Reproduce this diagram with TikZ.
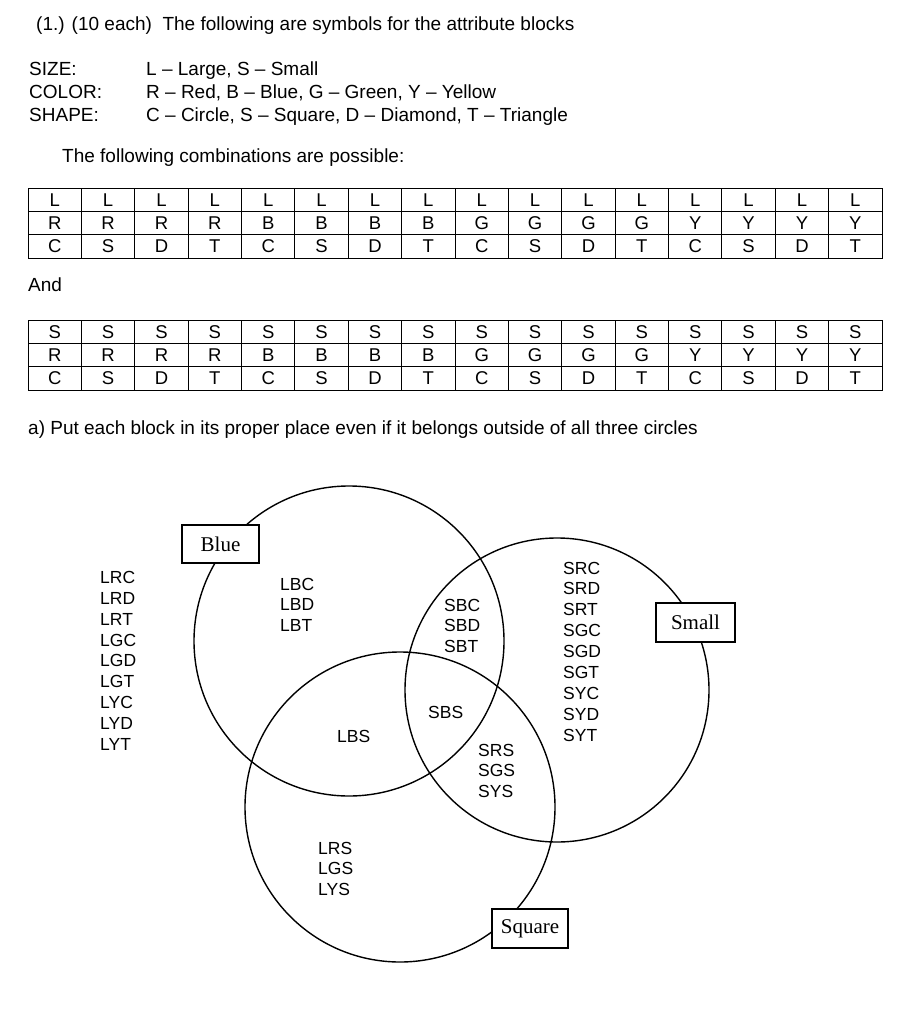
\documentclass[tikz,border=0pt]{standalone}
\usepackage{fontspec}
\setmainfont{Liberation Sans}
\newfontfamily\boxserif{Liberation Serif}
\begin{document}
\begin{tikzpicture}[x=1pt,y=-1pt,
  txt/.style={anchor=base west, inner sep=0pt, font=\fontsize{19}{23}\selectfont},
  cell/.style={draw, line width=0.9pt, minimum width=53.375pt, minimum height=23.33pt, inner sep=0pt, font=\fontsize{18.5}{20}\selectfont},
  vt/.style={anchor=base west, inner sep=0pt, font=\fontsize{17.5}{20}\selectfont},
  lbl/.style={draw, fill=white, line width=1.3pt, inner sep=0pt, font=\boxserif\fontsize{21}{24}\selectfont},
  venn/.style={line width=1.4pt}]
\useasboundingbox[fill=white] (0,0) rectangle (917,1024);

% header
\node[txt] (title) at (36,31) {(1.) (10 each)~ The following are symbols for the attribute blocks};
\node[txt] (size) at (29,76) {SIZE:};
\node[txt] (sizev) at (146,76) {L – Large, S – Small};
\node[txt] (color) at (29,99) {COLOR:};
\node[txt] (colorv) at (146,99) {R – Red, B – Blue, G – Green, Y – Yellow};
\node[txt] (shape) at (29,122) {SHAPE:};
\node[txt] (shapev) at (146,122) {C – Circle, S – Square, D – Diamond, T – Triangle};
\node[txt] (comb) at (62,163) {The following combinations are possible:};
\node[txt] (and) at (28,291) {And};
\node[txt] (parta) at (28,434) {a) Put each block in its proper place even if it belongs outside of all three circles};

% tables
\foreach \c/\k/\s [count=\n] in {0/R/C,1/R/S,2/R/D,3/R/T,4/B/C,5/B/S,6/B/D,7/B/T,8/G/C,9/G/S,10/G/D,11/G/T,12/Y/C,13/Y/S,14/Y/D,15/Y/T}{
  \node[cell] (a1-\n) at ({28+53.375*(\c+0.5)},199.7) {L};
  \node[cell] (a2-\n) at ({28+53.375*(\c+0.5)},223) {\k};
  \node[cell] (a3-\n) at ({28+53.375*(\c+0.5)},246.3) {\s};
  \node[cell] (b1-\n) at ({28+53.375*(\c+0.5)},331.7) {S};
  \node[cell] (b2-\n) at ({28+53.375*(\c+0.5)},355) {\k};
  \node[cell] (b3-\n) at ({28+53.375*(\c+0.5)},378.3) {\s};
}

% Venn circles
\draw[venn] (349,641) circle[radius=155];
\draw[venn] (557,690) circle[radius=152];
\draw[venn] (400,807) circle[radius=155];

% labels
\node[lbl, minimum width=77pt, minimum height=38pt] (blue) at (220.5,544) {Blue};
\node[lbl, minimum width=79pt, minimum height=39pt] (small) at (695.5,622.5) {Small};
\node[lbl, minimum width=76pt, minimum height=39pt] (square) at (530,928.5) {Square};

% lists
\foreach \t [count=\i from 0] in {LRC,LRD,LRT,LGC,LGD,LGT,LYC,LYD,LYT}
  \node[vt] (o\i) at (100,{583.3+20.9*\i}) {\t};
\foreach \t [count=\i from 0] in {LBC,LBD,LBT}
  \node[vt] (lb\i) at (280,{590+20.7*\i}) {\t};
\foreach \t [count=\i from 0] in {SBC,SBD,SBT}
  \node[vt] (sb\i) at (444,{611+20.7*\i}) {\t};
\foreach \t [count=\i from 0] in {SRC,SRD,SRT,SGC,SGD,SGT,SYC,SYD,SYT}
  \node[vt] (sr\i) at (563,{574+20.9*\i}) {\t};
\node[vt] (sbs) at (428,718) {SBS};
\node[vt] (lbs) at (337,742) {LBS};
\foreach \t [count=\i from 0] in {SRS,SGS,SYS}
  \node[vt] (ss\i) at (478,{756+20.9*\i}) {\t};
\foreach \t [count=\i from 0] in {LRS,LGS,LYS}
  \node[vt] (ls\i) at (318,{854+20.9*\i}) {\t};
\end{tikzpicture}
\end{document}
